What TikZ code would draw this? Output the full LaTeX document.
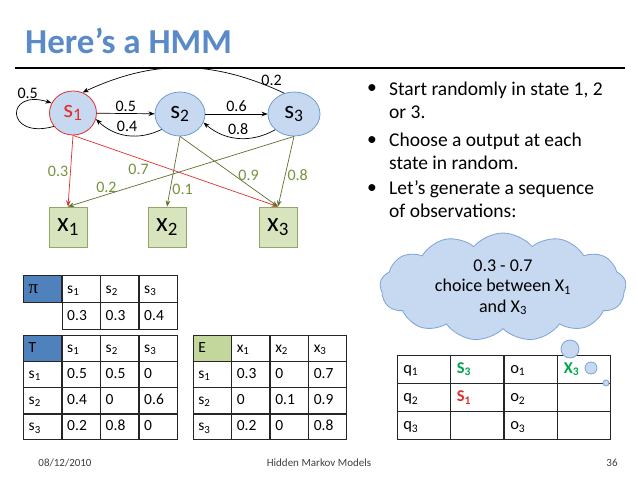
\documentclass[tikz,border=0pt]{standalone}
\usepackage{fontspec}
\setmainfont{Carlito}
\newfontfamily\greekfont{Liberation Serif}
\usetikzlibrary{arrows.meta, positioning, shapes.geometric, shapes.symbols, matrix}

\definecolor{titleblue}{HTML}{5A8AC8}
\definecolor{statefill}{HTML}{C6D9F1}
\definecolor{statebd}{HTML}{6F9BD1}
\definecolor{hotred}{HTML}{E0302F}
\definecolor{obsfill}{HTML}{D7E4BD}
\definecolor{obsbd}{HTML}{8FA865}
\definecolor{olivearrow}{HTML}{5F6F2C}
\definecolor{olivetext}{HTML}{76923C}
\definecolor{headblue}{HTML}{4F81BD}
\definecolor{headgreen}{HTML}{C3D69B}
\definecolor{pickgreen}{HTML}{00A650}
\definecolor{cloudbd}{HTML}{7CA3D6}

\newcommand{\idx}[1]{\textsubscript{#1}}
\newcommand{\fsz}[2]{\fontsize{#1}{#2}\selectfont}

\begin{document}
\begin{tikzpicture}[
    x=1pt, y=-1pt,
    >=Stealth,
    state/.style={draw=statebd, ellipse, fill=statefill, line width=0.8pt,
                  minimum width=50, minimum height=44, inner sep=0,
                  font=\fsz{25}{25}},
    obs/.style={draw=obsbd, fill=obsfill, line width=0.8pt,
                minimum width=38, minimum height=40, inner sep=0,
                font=\fsz{27}{27}},
    lbl/.style={font=\fsz{16}{16}, inner sep=2pt},
    olbl/.style={lbl, text=olivetext},
    emit/.style={->, olivearrow, line width=0.7pt},
    bullet text/.style={font=\fsz{19.5}{22.5}, align=left, inner sep=0},
    tab/.style={matrix of nodes, nodes in empty cells,
                row sep=-\pgflinewidth, column sep=-\pgflinewidth,
                nodes={draw=black!85, line width=0.9pt, text width=28, align=left,
                       inner xsep=5, minimum height=#1,
                       text height=11, text depth=3, font=\fsz{15.5}{15.5}}},
    bubble/.style={circle, draw=cloudbd, fill=statefill, line width=0.8pt, inner sep=0}
  ]
  \fill[white] (0,0) rectangle (638,493);
  \useasboundingbox (0,0) rectangle (638,493);

  % title and rule
  \node[anchor=base west, inner sep=0, font=\fsz{35}{35}\bfseries, text=titleblue]
    (title) at (25,53) {Here's a HMM};
  \draw[line width=2pt] (15,68) -- (625,68);

  % hidden states and outputs
  \node[state, draw=hotred, text=hotred, minimum width=47] (s1) at (73,113) {s\idx{1}};
  \node[state] (s2) at (180,114) {s\idx{2}};
  \node[state, minimum width=52] (s3) at (294,114) {s\idx{3}};

  \node[obs] (x1) at (68,227) {x\idx{1}};
  \node[obs] (x2) at (167,227) {x\idx{2}};
  \node[obs] (x3) at (278,227) {x\idx{3}};

  % transitions
  \draw[->, line width=0.7pt] (s1.215) .. controls (5,140) and (5,88) .. (s1.155)
    node[lbl, pos=0.78, above] {0.5};
  \draw[->, line width=0.7pt] (s1) -- (s2) node[lbl, midway, above] {0.5};
  \draw[->, line width=0.7pt] (s2.220) to[bend left=35]
    node[lbl, midway, above=1pt] {0.4} (s1.345);
  \draw[->, line width=0.7pt] (s2) -- (s3) node[lbl, midway, above] {0.6};
  \draw[->, line width=0.7pt] (s3.220) to[bend left=35]
    node[lbl, midway, above=1pt] {0.8} (s2.340);
  \draw[->, line width=0.7pt] (s3.115) to[out=155, in=25]
    node[lbl, pos=0.06, above] {0.2} (s1.65);

  % emissions
  \draw[emit, hotred] (s1.south) -- (x1.north) node[olbl, midway, left] {0.3};
  \draw[emit, hotred] (s1.south) -- (x3.north) node[olbl, pos=0.32, below=4pt] {0.7};
  \draw[emit] (s3.south) -- (x1.north) node[olbl, pos=0.83, above] {0.2};
  \draw[emit] (s2.south) -- (x2.north) node[olbl, pos=0.76, right] {0.1};
  \draw[emit] (s2.south) -- (x3.north) node[olbl, pos=0.7, above=3pt] {0.9};
  \draw[emit] (s3.south) -- (x3.north) node[olbl, pos=0.55, right] {0.8};

  % bullets
  \node[bullet text] (b1) at (372,89) {\textbullet};
  \node[bullet text] (b2) at (372,141) {\textbullet};
  \node[bullet text] (b3) at (372,189) {\textbullet};
  \node[bullet text, anchor=base west] (t1) at (389,118)
    {Start randomly in state 1, 2\\or 3.};
  \node[bullet text, anchor=base west] (t2) at (389,169)
    {Choose a output at each\\state in random.};
  \node[bullet text, anchor=base west] (t3) at (389,217)
    {Let's generate a sequence\\of observations:};

  % parameter tables
  \matrix[tab=26.5] (pitab) at (100.5,302.5) {
    |[fill=headblue, font=\fsz{19}{19}\greekfont]| π & s\idx{1} & s\idx{2} & s\idx{3} \\
    |[draw=none]| & 0.3 & 0.3 & 0.4 \\
  };
  \matrix[tab=25.8] (ttab) at (100.5,387.5) {
    |[fill=headblue]| T & s\idx{1} & s\idx{2} & s\idx{3} \\
    s\idx{1} & 0.5 & 0.5 & 0 \\
    s\idx{2} & 0.4 & 0 & 0.6 \\
    s\idx{3} & 0.2 & 0.8 & 0 \\
  };
  \matrix[tab=25.8] (etab) at (270,387.5) {
    |[fill=headgreen]| E & x\idx{1} & x\idx{2} & x\idx{3} \\
    s\idx{1} & 0.3 & 0 & 0.7 \\
    s\idx{2} & 0 & 0.1 & 0.9 \\
    s\idx{3} & 0.2 & 0 & 0.8 \\
  };

  % generated sequence
  \matrix[tab=27.7, nodes={text width=41, inner xsep=6, font=\fsz{16.5}{16.5}}]
    (qtab) at (504,397.5) {
    q\idx{1} & |[text=pickgreen, font=\fsz{16.5}{16.5}\bfseries]| S\idx{3}
      & o\idx{1} & |[text=pickgreen, font=\fsz{16.5}{16.5}\bfseries]| X\idx{3} \\
    q\idx{2} & |[text=hotred, font=\fsz{16.5}{16.5}\bfseries]| S\idx{1} & o\idx{2} & \\
    q\idx{3} & & o\idx{3} & \\
  };

  % thought cloud
  \node[cloud, cloud puffs=13, cloud puff arc=100, aspect=2.3, draw=cloudbd,
        fill=statefill, line width=0.8pt, minimum width=246, minimum height=108,
        align=center, font=\fsz{18}{20.5}] (thought) at (503,287)
    {0.3 - 0.7\\choice between X\idx{1}\\and X\idx{3}};
  \node[bubble, minimum size=18] (bub1) at (570,349) {};
  \node[bubble, minimum size=12] (bub2) at (591,368) {};
  \node[bubble, minimum size=6] (bub3) at (606,383) {};

  % footer
  \node[font=\fsz{11}{11}, text=black!75] (date) at (65,463) {08/12/2010};
  \node[font=\fsz{11}{11}, text=black!75] (topic) at (319,463) {Hidden Markov Models};
  \node[font=\fsz{11}{11}, text=black!75] (page) at (612,463) {36};
\end{tikzpicture}
\end{document}
